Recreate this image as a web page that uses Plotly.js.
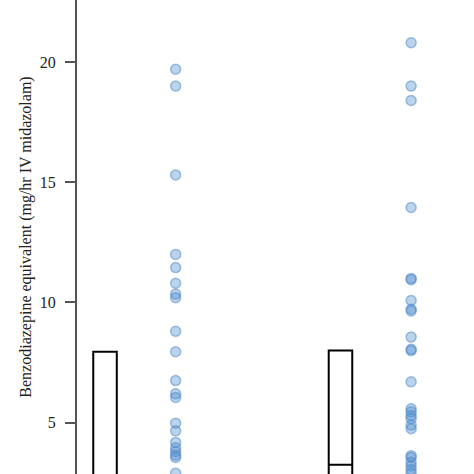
<!DOCTYPE html>
<html>
<head>
<meta charset="utf-8">
<script src="https://cdn.plot.ly/plotly-3.0.1.min.js"></script>
<style>
  html, body { margin: 0; padding: 0; background: #fff; }
  #chart { width: 474px; height: 474px; }
</style>
</head>
<body>
<div id="chart"></div>
<script>
// positions of the two groups on a numeric x axis (box, then its points)
const boxX = [0, 1]
const stripOffset = 0.3

// box summary values (only the upper part is visible in the crop)
const boxQ1 = [1.0, 1.5]
const boxMedian = [2.0, 3.25]
const boxQ3 = [7.95, 8.0]
const boxLower = [0.5, 0.5]
const boxUpper = [7.95, 8.0]

// individual values
const groupA = [19.7, 19.0, 15.3, 12.0, 11.45, 10.8, 10.35, 10.2, 8.8, 7.95, 6.75,
    6.2, 6.05, 4.98, 4.66, 4.18, 3.96, 3.8, 3.65, 3.55, 2.9]
const groupB = [20.8, 19.0, 18.4, 13.95, 11.0, 10.95, 10.08, 9.72, 9.65, 8.56, 8.05,
    8.0, 6.7, 5.58, 5.45, 5.3, 5.17, 4.9, 4.75, 3.63, 3.55, 3.35, 3.2, 3.05, 2.9]

const pointColor = 'rgba(80, 140, 205, 0.38)'

function boxTrace(i) {
    return {
        type: 'box',
        x: [boxX[i]],
        q1: [boxQ1[i]],
        median: [boxMedian[i]],
        q3: [boxQ3[i]],
        lowerfence: [boxLower[i]],
        upperfence: [boxUpper[i]],
        width: 0.1,
        fillcolor: '#ffffff',
        line: {color: '#000000', width: 2},
        boxpoints: false,
        hoverinfo: 'skip',
        showlegend: false
    }
}

function stripTrace(values, i) {
    return {
        type: 'scatter',
        mode: 'markers',
        x: values.map(() => boxX[i] + stripOffset),
        y: values,
        marker: {
            color: pointColor,
            size: 10,
            line: {color: 'rgba(74, 134, 200, 0.5)', width: 1.5}
        },
        showlegend: false
    }
}

const traces = [boxTrace(0), boxTrace(1), stripTrace(groupA, 0), stripTrace(groupB, 1)]

const layout = {
    width: 474,
    height: 474,
    margin: {l: 77, r: 0, t: 0, b: 0},
    paper_bgcolor: '#ffffff',
    plot_bgcolor: '#ffffff',
    font: {family: 'Liberation Serif, DejaVu Serif, serif', color: '#222'},
    xaxis: {
        range: [-0.119, 1.567],
        showline: false,
        showticklabels: false,
        showgrid: false,
        zeroline: false,
        ticks: ''
    },
    yaxis: {
        range: [2.866, 22.58],
        tickvals: [5, 10, 15, 20],
        ticks: 'outside',
        ticklen: 10,
        tickwidth: 2,
        tickcolor: '#555',
        ticklabelstandoff: 6,
        showline: true,
        linecolor: '#555',
        linewidth: 2,
        showgrid: false,
        zeroline: false,
        tickfont: {size: 16, color: '#222'},
        title: {
            text: 'Benzodiazepine equivalent (mg/hr IV midazolam)',
            font: {size: 16, color: '#222'},
            standoff: 4
        }
    }
}

Plotly.newPlot('chart', traces, layout, {staticPlot: true, displayModeBar: false})
</script>
</body>
</html>
